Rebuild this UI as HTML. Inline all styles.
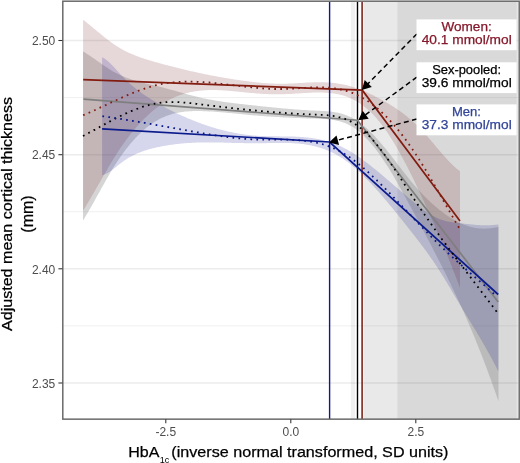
<!DOCTYPE html>
<html><head><meta charset="utf-8"><style>html,body{margin:0;padding:0;background:#fff;overflow:hidden}svg{display:block}</style></head>
<body><svg width="520" height="463" viewBox="0 0 520 463">
<rect x="0" y="0" width="520" height="463" fill="#fff"/>
<line x1="62.4" x2="518.6" y1="40.5" y2="40.5" stroke="#ececec" stroke-width="1.5"/>
<line x1="62.4" x2="518.6" y1="154.7" y2="154.7" stroke="#ececec" stroke-width="1.5"/>
<line x1="62.4" x2="518.6" y1="268.8" y2="268.8" stroke="#ececec" stroke-width="1.5"/>
<line x1="62.4" x2="518.6" y1="383.0" y2="383.0" stroke="#ececec" stroke-width="1.5"/>
<line x1="62.4" x2="518.6" y1="97.6" y2="97.6" stroke="#f0f0f0" stroke-width="1.0"/>
<line x1="62.4" x2="518.6" y1="211.7" y2="211.7" stroke="#f0f0f0" stroke-width="1.0"/>
<line x1="62.4" x2="518.6" y1="325.9" y2="325.9" stroke="#f0f0f0" stroke-width="1.0"/>
<rect x="350.8" y="1.4" width="4.3" height="417.8" fill="#000" fill-opacity="0.06"/>
<rect x="363.5" y="1.4" width="33.9" height="417.8" fill="#000" fill-opacity="0.085"/>
<rect x="397.4" y="1.4" width="119.2" height="417.8" fill="#000" fill-opacity="0.15"/>
<rect x="516.6" y="1.4" width="1.5" height="417.8" fill="#000" fill-opacity="0.10"/>
<path d="M83.0,51.4 L84.0,52.0 L85.0,52.6 L86.0,53.2 L87.0,53.9 L88.0,54.5 L89.0,55.2 L90.0,55.8 L91.0,56.5 L92.0,57.2 L93.0,57.9 L94.0,58.6 L95.0,59.3 L96.0,60.0 L97.0,60.7 L98.0,61.4 L99.0,62.1 L100.0,62.8 L101.0,63.5 L102.0,64.2 L103.0,64.9 L104.0,65.6 L105.0,66.3 L106.0,67.0 L107.0,67.6 L108.0,68.3 L109.0,69.0 L110.0,69.6 L111.0,70.2 L112.0,70.8 L113.0,71.4 L114.0,72.0 L115.0,72.5 L116.0,73.0 L117.0,73.6 L118.0,74.1 L119.0,74.5 L120.0,75.0 L121.0,75.5 L122.0,75.9 L123.0,76.3 L124.0,76.8 L125.0,77.2 L126.0,77.5 L127.0,77.9 L128.0,78.3 L129.0,78.6 L130.0,79.0 L131.0,79.3 L132.0,79.7 L133.0,80.0 L134.0,80.3 L135.0,80.6 L136.0,80.9 L137.0,81.2 L138.0,81.4 L139.0,81.7 L140.0,82.0 L141.0,82.3 L142.0,82.5 L143.0,82.8 L144.0,83.0 L145.0,83.3 L146.0,83.5 L147.0,83.7 L148.0,84.0 L149.0,84.2 L150.0,84.4 L151.0,84.7 L152.0,84.9 L153.0,85.1 L154.0,85.4 L155.0,85.6 L156.0,85.9 L157.0,86.1 L158.0,86.3 L159.0,86.6 L160.0,86.8 L161.0,87.1 L162.0,87.3 L163.0,87.6 L164.0,87.8 L165.0,88.1 L166.0,88.4 L167.0,88.6 L168.0,88.9 L169.0,89.2 L170.0,89.5 L171.0,89.7 L172.0,90.0 L173.0,90.3 L174.0,90.6 L175.0,90.8 L176.0,91.1 L177.0,91.4 L178.0,91.7 L179.0,92.0 L180.0,92.3 L181.0,92.5 L182.0,92.8 L183.0,93.1 L184.0,93.4 L185.0,93.6 L186.0,93.9 L187.0,94.2 L188.0,94.5 L189.0,94.7 L190.0,95.0 L191.0,95.3 L192.0,95.5 L193.0,95.8 L194.0,96.0 L195.0,96.3 L196.0,96.6 L197.0,96.8 L198.0,97.0 L199.0,97.3 L200.0,97.5 L201.0,97.7 L202.0,98.0 L203.0,98.2 L204.0,98.4 L205.0,98.6 L206.0,98.8 L207.0,99.0 L208.0,99.2 L209.0,99.4 L210.0,99.6 L211.0,99.8 L212.0,100.0 L213.0,100.1 L214.0,100.3 L215.0,100.5 L216.0,100.7 L217.0,100.8 L218.0,101.0 L219.0,101.1 L220.0,101.3 L221.0,101.5 L222.0,101.6 L223.0,101.7 L224.0,101.9 L225.0,102.0 L226.0,102.2 L227.0,102.3 L228.0,102.4 L229.0,102.6 L230.0,102.7 L231.0,102.8 L232.0,103.0 L233.0,103.1 L234.0,103.2 L235.0,103.3 L236.0,103.4 L237.0,103.6 L238.0,103.7 L239.0,103.8 L240.0,103.9 L241.0,104.0 L242.0,104.1 L243.0,104.2 L244.0,104.3 L245.0,104.5 L246.0,104.6 L247.0,104.7 L248.0,104.8 L249.0,104.9 L250.0,105.0 L251.0,105.1 L252.0,105.2 L253.0,105.3 L254.0,105.4 L255.0,105.5 L256.0,105.6 L257.0,105.8 L258.0,105.9 L259.0,106.0 L260.0,106.1 L261.0,106.2 L262.0,106.3 L263.0,106.4 L264.0,106.5 L265.0,106.6 L266.0,106.7 L267.0,106.8 L268.0,106.9 L269.0,107.0 L270.0,107.1 L271.0,107.2 L272.0,107.3 L273.0,107.4 L274.0,107.5 L275.0,107.6 L276.0,107.7 L277.0,107.8 L278.0,107.9 L279.0,108.0 L280.0,108.1 L281.0,108.2 L282.0,108.3 L283.0,108.4 L284.0,108.5 L285.0,108.6 L286.0,108.6 L287.0,108.7 L288.0,108.8 L289.0,108.9 L290.0,109.0 L291.0,109.1 L292.0,109.1 L293.0,109.2 L294.0,109.3 L295.0,109.4 L296.0,109.5 L297.0,109.5 L298.0,109.6 L299.0,109.7 L300.0,109.7 L301.0,109.8 L302.0,109.9 L303.0,110.0 L304.0,110.0 L305.0,110.1 L306.0,110.1 L307.0,110.2 L308.0,110.3 L309.0,110.3 L310.0,110.4 L311.0,110.4 L312.0,110.5 L313.0,110.5 L314.0,110.6 L315.0,110.6 L316.0,110.7 L317.0,110.7 L318.0,110.7 L319.0,110.8 L320.0,110.8 L321.0,110.9 L322.0,110.9 L323.0,111.0 L324.0,111.0 L325.0,111.1 L326.0,111.2 L327.0,111.2 L328.0,111.3 L329.0,111.4 L330.0,111.5 L331.0,111.6 L332.0,111.8 L333.0,111.9 L334.0,112.1 L335.0,112.2 L336.0,112.4 L337.0,112.6 L338.0,112.8 L339.0,113.0 L340.0,113.3 L341.0,113.5 L342.0,113.8 L343.0,114.1 L344.0,114.4 L345.0,114.8 L346.0,115.1 L347.0,115.5 L348.0,115.9 L349.0,116.4 L350.0,116.8 L351.0,117.3 L352.0,117.8 L353.0,118.4 L354.0,118.9 L355.0,119.5 L356.0,120.2 L357.0,120.8 L358.0,121.5 L359.0,122.2 L360.0,122.9 L361.0,123.7 L362.0,124.5 L363.0,125.3 L364.0,126.1 L365.0,126.9 L366.0,127.8 L367.0,128.7 L368.0,129.6 L369.0,130.6 L370.0,131.5 L371.0,132.5 L372.0,133.5 L373.0,134.6 L374.0,135.6 L375.0,136.6 L376.0,137.7 L377.0,138.8 L378.0,139.9 L379.0,141.1 L380.0,142.2 L381.0,143.4 L382.0,144.5 L383.0,145.7 L384.0,146.9 L385.0,148.1 L386.0,149.3 L387.0,150.6 L388.0,151.8 L389.0,153.1 L390.0,154.4 L391.0,155.6 L392.0,156.9 L393.0,158.2 L394.0,159.5 L395.0,160.8 L396.0,162.1 L397.0,163.4 L398.0,164.7 L399.0,166.0 L400.0,167.3 L401.0,168.6 L402.0,169.9 L403.0,171.2 L404.0,172.5 L405.0,173.8 L406.0,175.1 L407.0,176.3 L408.0,177.6 L409.0,178.8 L410.0,180.0 L411.0,181.2 L412.0,182.4 L413.0,183.6 L414.0,184.8 L415.0,185.9 L416.0,187.1 L417.0,188.2 L418.0,189.3 L419.0,190.4 L420.0,191.5 L421.0,192.6 L422.0,193.6 L423.0,194.7 L424.0,195.7 L425.0,196.7 L426.0,197.7 L427.0,198.7 L428.0,199.7 L429.0,200.6 L430.0,201.6 L431.0,202.5 L432.0,203.4 L433.0,204.3 L434.0,205.2 L435.0,206.1 L436.0,206.9 L437.0,207.8 L438.0,208.6 L439.0,209.4 L440.0,210.2 L441.0,211.0 L442.0,211.7 L443.0,212.5 L444.0,213.2 L445.0,214.0 L446.0,214.7 L447.0,215.4 L448.0,216.0 L449.0,216.7 L450.0,217.4 L451.0,218.0 L452.0,218.6 L453.0,219.2 L454.0,219.8 L455.0,220.3 L456.0,220.9 L457.0,221.4 L458.0,221.9 L459.0,222.4 L460.0,222.9 L461.0,223.4 L462.0,223.8 L463.0,224.2 L464.0,224.7 L465.0,225.0 L466.0,225.4 L467.0,225.8 L468.0,226.1 L469.0,226.4 L470.0,226.7 L471.0,227.0 L472.0,227.2 L473.0,227.5 L474.0,227.7 L475.0,227.9 L476.0,228.0 L477.0,228.2 L478.0,228.3 L479.0,228.4 L480.0,228.5 L481.0,228.6 L482.0,228.6 L483.0,228.7 L484.0,228.7 L485.0,228.7 L486.0,228.6 L487.0,228.6 L488.0,228.5 L489.0,228.4 L490.0,228.3 L491.0,228.2 L492.0,228.1 L493.0,228.0 L494.0,227.8 L495.0,227.6 L496.0,227.5 L497.0,227.3 L498.0,227.1 L498.5,227.0 L498.5,401.2 L498.0,399.8 L497.0,396.9 L496.0,394.1 L495.0,391.3 L494.0,388.5 L493.0,385.7 L492.0,382.9 L491.0,380.1 L490.0,377.4 L489.0,374.7 L488.0,372.0 L487.0,369.3 L486.0,366.6 L485.0,363.9 L484.0,361.3 L483.0,358.7 L482.0,356.1 L481.0,353.5 L480.0,351.0 L479.0,348.5 L478.0,345.9 L477.0,343.5 L476.0,341.0 L475.0,338.5 L474.0,336.1 L473.0,333.7 L472.0,331.3 L471.0,328.9 L470.0,326.6 L469.0,324.2 L468.0,321.9 L467.0,319.6 L466.0,317.3 L465.0,315.1 L464.0,312.8 L463.0,310.6 L462.0,308.3 L461.0,306.1 L460.0,303.9 L459.0,301.8 L458.0,299.6 L457.0,297.5 L456.0,295.3 L455.0,293.2 L454.0,291.1 L453.0,289.0 L452.0,286.9 L451.0,284.8 L450.0,282.7 L449.0,280.7 L448.0,278.6 L447.0,276.6 L446.0,274.6 L445.0,272.6 L444.0,270.5 L443.0,268.5 L442.0,266.6 L441.0,264.6 L440.0,262.6 L439.0,260.6 L438.0,258.7 L437.0,256.7 L436.0,254.8 L435.0,252.8 L434.0,250.9 L433.0,248.9 L432.0,247.0 L431.0,245.1 L430.0,243.2 L429.0,241.3 L428.0,239.4 L427.0,237.5 L426.0,235.6 L425.0,233.7 L424.0,231.8 L423.0,229.9 L422.0,228.0 L421.0,226.2 L420.0,224.3 L419.0,222.4 L418.0,220.5 L417.0,218.7 L416.0,216.8 L415.0,215.0 L414.0,213.1 L413.0,211.3 L412.0,209.4 L411.0,207.6 L410.0,205.7 L409.0,203.9 L408.0,202.0 L407.0,200.2 L406.0,198.3 L405.0,196.5 L404.0,194.7 L403.0,192.9 L402.0,191.0 L401.0,189.2 L400.0,187.5 L399.0,185.7 L398.0,183.9 L397.0,182.1 L396.0,180.4 L395.0,178.7 L394.0,177.0 L393.0,175.3 L392.0,173.6 L391.0,171.9 L390.0,170.3 L389.0,168.6 L388.0,167.0 L387.0,165.5 L386.0,163.9 L385.0,162.4 L384.0,160.9 L383.0,159.4 L382.0,157.9 L381.0,156.5 L380.0,155.0 L379.0,153.6 L378.0,152.3 L377.0,150.9 L376.0,149.6 L375.0,148.3 L374.0,147.1 L373.0,145.8 L372.0,144.6 L371.0,143.4 L370.0,142.3 L369.0,141.2 L368.0,140.1 L367.0,139.0 L366.0,137.9 L365.0,136.9 L364.0,135.9 L363.0,135.0 L362.0,134.1 L361.0,133.2 L360.0,132.3 L359.0,131.5 L358.0,130.7 L357.0,129.9 L356.0,129.2 L355.0,128.5 L354.0,127.8 L353.0,127.1 L352.0,126.5 L351.0,126.0 L350.0,125.4 L349.0,124.9 L348.0,124.4 L347.0,123.9 L346.0,123.5 L345.0,123.1 L344.0,122.7 L343.0,122.4 L342.0,122.0 L341.0,121.7 L340.0,121.4 L339.0,121.1 L338.0,120.9 L337.0,120.7 L336.0,120.4 L335.0,120.2 L334.0,120.1 L333.0,119.9 L332.0,119.7 L331.0,119.6 L330.0,119.5 L329.0,119.4 L328.0,119.3 L327.0,119.2 L326.0,119.1 L325.0,119.0 L324.0,119.0 L323.0,118.9 L322.0,118.9 L321.0,118.8 L320.0,118.8 L319.0,118.7 L318.0,118.7 L317.0,118.7 L316.0,118.7 L315.0,118.6 L314.0,118.6 L313.0,118.6 L312.0,118.5 L311.0,118.5 L310.0,118.5 L309.0,118.4 L308.0,118.4 L307.0,118.4 L306.0,118.4 L305.0,118.3 L304.0,118.3 L303.0,118.2 L302.0,118.2 L301.0,118.2 L300.0,118.1 L299.0,118.1 L298.0,118.1 L297.0,118.0 L296.0,118.0 L295.0,117.9 L294.0,117.9 L293.0,117.9 L292.0,117.8 L291.0,117.8 L290.0,117.7 L289.0,117.7 L288.0,117.6 L287.0,117.6 L286.0,117.5 L285.0,117.5 L284.0,117.4 L283.0,117.4 L282.0,117.3 L281.0,117.3 L280.0,117.2 L279.0,117.1 L278.0,117.1 L277.0,117.0 L276.0,117.0 L275.0,116.9 L274.0,116.8 L273.0,116.8 L272.0,116.7 L271.0,116.7 L270.0,116.6 L269.0,116.5 L268.0,116.5 L267.0,116.4 L266.0,116.3 L265.0,116.2 L264.0,116.2 L263.0,116.1 L262.0,116.0 L261.0,115.9 L260.0,115.9 L259.0,115.8 L258.0,115.7 L257.0,115.6 L256.0,115.5 L255.0,115.5 L254.0,115.4 L253.0,115.3 L252.0,115.2 L251.0,115.1 L250.0,115.0 L249.0,114.9 L248.0,114.8 L247.0,114.7 L246.0,114.6 L245.0,114.5 L244.0,114.4 L243.0,114.3 L242.0,114.2 L241.0,114.1 L240.0,114.0 L239.0,113.9 L238.0,113.8 L237.0,113.7 L236.0,113.6 L235.0,113.5 L234.0,113.4 L233.0,113.3 L232.0,113.2 L231.0,113.1 L230.0,113.1 L229.0,113.0 L228.0,112.9 L227.0,112.8 L226.0,112.7 L225.0,112.6 L224.0,112.5 L223.0,112.4 L222.0,112.3 L221.0,112.2 L220.0,112.2 L219.0,112.1 L218.0,112.0 L217.0,111.9 L216.0,111.8 L215.0,111.8 L214.0,111.7 L213.0,111.6 L212.0,111.6 L211.0,111.5 L210.0,111.5 L209.0,111.4 L208.0,111.4 L207.0,111.3 L206.0,111.3 L205.0,111.2 L204.0,111.2 L203.0,111.2 L202.0,111.1 L201.0,111.1 L200.0,111.1 L199.0,111.1 L198.0,111.1 L197.0,111.1 L196.0,111.1 L195.0,111.1 L194.0,111.1 L193.0,111.1 L192.0,111.2 L191.0,111.2 L190.0,111.3 L189.0,111.3 L188.0,111.4 L187.0,111.5 L186.0,111.5 L185.0,111.6 L184.0,111.8 L183.0,111.9 L182.0,112.0 L181.0,112.2 L180.0,112.3 L179.0,112.5 L178.0,112.7 L177.0,112.9 L176.0,113.1 L175.0,113.3 L174.0,113.6 L173.0,113.8 L172.0,114.1 L171.0,114.4 L170.0,114.7 L169.0,115.0 L168.0,115.4 L167.0,115.7 L166.0,116.1 L165.0,116.5 L164.0,116.9 L163.0,117.4 L162.0,117.8 L161.0,118.3 L160.0,118.8 L159.0,119.3 L158.0,119.9 L157.0,120.4 L156.0,121.0 L155.0,121.6 L154.0,122.3 L153.0,122.9 L152.0,123.6 L151.0,124.3 L150.0,125.0 L149.0,125.8 L148.0,126.5 L147.0,127.3 L146.0,128.1 L145.0,129.0 L144.0,129.8 L143.0,130.7 L142.0,131.6 L141.0,132.5 L140.0,133.5 L139.0,134.5 L138.0,135.5 L137.0,136.5 L136.0,137.5 L135.0,138.6 L134.0,139.7 L133.0,140.8 L132.0,141.9 L131.0,143.1 L130.0,144.3 L129.0,145.5 L128.0,146.7 L127.0,148.0 L126.0,149.3 L125.0,150.6 L124.0,151.9 L123.0,153.3 L122.0,154.7 L121.0,156.1 L120.0,157.5 L119.0,159.0 L118.0,160.5 L117.0,162.0 L116.0,163.5 L115.0,165.1 L114.0,166.6 L113.0,168.3 L112.0,169.9 L111.0,171.6 L110.0,173.2 L109.0,174.9 L108.0,176.7 L107.0,178.4 L106.0,180.1 L105.0,181.9 L104.0,183.7 L103.0,185.5 L102.0,187.3 L101.0,189.1 L100.0,190.9 L99.0,192.7 L98.0,194.5 L97.0,196.3 L96.0,198.1 L95.0,199.9 L94.0,201.7 L93.0,203.5 L92.0,205.3 L91.0,207.0 L90.0,208.8 L89.0,210.5 L88.0,212.2 L87.0,213.9 L86.0,215.6 L85.0,217.3 L84.0,218.9 L83.0,220.6Z" fill="#7f7f7f" fill-opacity="0.33"/>
<path d="M83.1,19.7 L84.1,20.5 L85.1,21.3 L86.1,22.1 L87.1,22.9 L88.1,23.7 L89.1,24.5 L90.1,25.4 L91.1,26.2 L92.1,27.0 L93.1,27.9 L94.1,28.7 L95.1,29.5 L96.1,30.3 L97.1,31.2 L98.1,32.0 L99.1,32.8 L100.1,33.6 L101.1,34.5 L102.1,35.3 L103.1,36.1 L104.1,36.9 L105.1,37.7 L106.1,38.5 L107.1,39.2 L108.1,40.0 L109.1,40.8 L110.1,41.5 L111.1,42.2 L112.1,43.0 L113.1,43.7 L114.1,44.4 L115.1,45.0 L116.1,45.7 L117.1,46.3 L118.1,47.0 L119.1,47.6 L120.1,48.2 L121.1,48.8 L122.1,49.3 L123.1,49.9 L124.1,50.4 L125.1,50.9 L126.1,51.4 L127.1,51.9 L128.1,52.4 L129.1,52.9 L130.1,53.3 L131.1,53.8 L132.1,54.2 L133.1,54.6 L134.1,55.0 L135.1,55.4 L136.1,55.8 L137.1,56.2 L138.1,56.6 L139.1,57.0 L140.1,57.3 L141.1,57.7 L142.1,58.0 L143.1,58.3 L144.1,58.7 L145.1,59.0 L146.1,59.3 L147.1,59.6 L148.1,59.9 L149.1,60.2 L150.1,60.5 L151.1,60.8 L152.1,61.1 L153.1,61.4 L154.1,61.7 L155.1,62.0 L156.1,62.3 L157.1,62.5 L158.1,62.8 L159.1,63.1 L160.1,63.4 L161.1,63.6 L162.1,63.9 L163.1,64.2 L164.1,64.5 L165.1,64.7 L166.1,65.0 L167.1,65.3 L168.1,65.5 L169.1,65.8 L170.1,66.0 L171.1,66.3 L172.1,66.6 L173.1,66.8 L174.1,67.1 L175.1,67.3 L176.1,67.6 L177.1,67.8 L178.1,68.1 L179.1,68.3 L180.1,68.6 L181.1,68.8 L182.1,69.0 L183.1,69.3 L184.1,69.5 L185.1,69.8 L186.1,70.0 L187.1,70.2 L188.1,70.5 L189.1,70.7 L190.1,70.9 L191.1,71.2 L192.1,71.4 L193.1,71.6 L194.1,71.8 L195.1,72.1 L196.1,72.3 L197.1,72.5 L198.1,72.7 L199.1,72.9 L200.1,73.1 L201.1,73.4 L202.1,73.6 L203.1,73.8 L204.1,74.0 L205.1,74.2 L206.1,74.4 L207.1,74.6 L208.1,74.8 L209.1,75.0 L210.1,75.2 L211.1,75.4 L212.1,75.6 L213.1,75.8 L214.1,76.0 L215.1,76.1 L216.1,76.3 L217.1,76.5 L218.1,76.7 L219.1,76.9 L220.1,77.1 L221.1,77.2 L222.1,77.4 L223.1,77.6 L224.1,77.8 L225.1,77.9 L226.1,78.1 L227.1,78.3 L228.1,78.4 L229.1,78.6 L230.1,78.7 L231.1,78.9 L232.1,79.1 L233.1,79.2 L234.1,79.4 L235.1,79.5 L236.1,79.7 L237.1,79.8 L238.1,80.0 L239.1,80.1 L240.1,80.3 L241.1,80.4 L242.1,80.5 L243.1,80.7 L244.1,80.8 L245.1,80.9 L246.1,81.1 L247.1,81.2 L248.1,81.3 L249.1,81.4 L250.1,81.6 L251.1,81.7 L252.1,81.8 L253.1,81.9 L254.1,82.0 L255.1,82.2 L256.1,82.3 L257.1,82.4 L258.1,82.5 L259.1,82.6 L260.1,82.7 L261.1,82.8 L262.1,82.9 L263.1,82.9 L264.1,83.0 L265.1,83.1 L266.1,83.2 L267.1,83.2 L268.1,83.3 L269.1,83.4 L270.1,83.4 L271.1,83.5 L272.1,83.5 L273.1,83.6 L274.1,83.6 L275.1,83.7 L276.1,83.7 L277.1,83.7 L278.1,83.7 L279.1,83.7 L280.1,83.8 L281.1,83.8 L282.1,83.8 L283.1,83.7 L284.1,83.7 L285.1,83.7 L286.1,83.7 L287.1,83.7 L288.1,83.6 L289.1,83.6 L290.1,83.5 L291.1,83.5 L292.1,83.4 L293.1,83.4 L294.1,83.3 L295.1,83.3 L296.1,83.2 L297.1,83.2 L298.1,83.1 L299.1,83.1 L300.1,83.0 L301.1,82.9 L302.1,82.9 L303.1,82.8 L304.1,82.8 L305.1,82.7 L306.1,82.6 L307.1,82.6 L308.1,82.5 L309.1,82.5 L310.1,82.4 L311.1,82.4 L312.1,82.4 L313.1,82.3 L314.1,82.3 L315.1,82.3 L316.1,82.2 L317.1,82.2 L318.1,82.2 L319.1,82.2 L320.1,82.2 L321.1,82.2 L322.1,82.2 L323.1,82.2 L324.1,82.3 L325.1,82.3 L326.1,82.3 L327.1,82.4 L328.1,82.4 L329.1,82.5 L330.1,82.6 L331.1,82.7 L332.1,82.8 L333.1,82.9 L334.1,83.0 L335.1,83.1 L336.1,83.2 L337.1,83.4 L338.1,83.5 L339.1,83.7 L340.1,83.9 L341.1,84.0 L342.1,84.2 L343.1,84.4 L344.1,84.6 L345.1,84.9 L346.1,85.1 L347.1,85.3 L348.1,85.6 L349.1,85.9 L350.1,86.1 L351.1,86.4 L352.1,86.7 L353.1,87.0 L354.1,87.4 L355.1,87.7 L356.1,88.0 L357.1,88.4 L358.1,88.7 L359.1,89.1 L360.1,89.5 L361.1,89.9 L362.1,90.3 L363.1,90.7 L364.1,91.1 L365.1,91.6 L366.1,92.0 L367.1,92.5 L368.1,92.9 L369.1,93.4 L370.1,93.9 L371.1,94.4 L372.1,94.8 L373.1,95.3 L374.1,95.8 L375.1,96.4 L376.1,96.9 L377.1,97.4 L378.1,97.9 L379.1,98.5 L380.1,99.0 L381.1,99.5 L382.1,100.1 L383.1,100.6 L384.1,101.2 L385.1,101.8 L386.1,102.3 L387.1,102.9 L388.1,103.5 L389.1,104.1 L390.1,104.7 L391.1,105.3 L392.1,106.0 L393.1,106.6 L394.1,107.2 L395.1,107.9 L396.1,108.5 L397.1,109.2 L398.1,109.9 L399.1,110.6 L400.1,111.3 L401.1,112.0 L402.1,112.8 L403.1,113.5 L404.1,114.3 L405.1,115.0 L406.1,115.8 L407.1,116.6 L408.1,117.4 L409.1,118.3 L410.1,119.1 L411.1,120.0 L412.1,120.9 L413.1,121.8 L414.1,122.7 L415.1,123.6 L416.1,124.6 L417.1,125.6 L418.1,126.5 L419.1,127.5 L420.1,128.6 L421.1,129.6 L422.1,130.6 L423.1,131.7 L424.1,132.8 L425.1,133.9 L426.1,135.0 L427.1,136.1 L428.1,137.3 L429.1,138.4 L430.1,139.6 L431.1,140.8 L432.1,141.9 L433.1,143.1 L434.1,144.3 L435.1,145.5 L436.1,146.7 L437.1,147.9 L438.1,149.0 L439.1,150.2 L440.1,151.4 L441.1,152.6 L442.1,153.7 L443.1,154.9 L444.1,156.0 L445.1,157.1 L446.1,158.2 L447.1,159.3 L448.1,160.4 L449.1,161.4 L450.1,162.5 L451.1,163.5 L452.1,164.5 L453.1,165.4 L454.1,166.4 L455.1,167.3 L456.1,168.2 L457.1,169.0 L458.1,169.8 L459.1,170.6 L460.0,171.3 L460.0,287.9 L459.1,285.5 L458.1,282.8 L457.1,280.2 L456.1,277.6 L455.1,275.0 L454.1,272.4 L453.1,269.9 L452.1,267.3 L451.1,264.8 L450.1,262.3 L449.1,259.8 L448.1,257.4 L447.1,254.9 L446.1,252.5 L445.1,250.1 L444.1,247.7 L443.1,245.3 L442.1,242.9 L441.1,240.5 L440.1,238.2 L439.1,235.8 L438.1,233.5 L437.1,231.2 L436.1,228.9 L435.1,226.6 L434.1,224.3 L433.1,222.1 L432.1,219.8 L431.1,217.6 L430.1,215.3 L429.1,213.1 L428.1,210.9 L427.1,208.7 L426.1,206.4 L425.1,204.2 L424.1,202.0 L423.1,199.9 L422.1,197.7 L421.1,195.5 L420.1,193.3 L419.1,191.2 L418.1,189.1 L417.1,186.9 L416.1,184.8 L415.1,182.7 L414.1,180.6 L413.1,178.6 L412.1,176.5 L411.1,174.5 L410.1,172.5 L409.1,170.5 L408.1,168.5 L407.1,166.5 L406.1,164.6 L405.1,162.7 L404.1,160.8 L403.1,158.9 L402.1,157.1 L401.1,155.2 L400.1,153.4 L399.1,151.6 L398.1,149.9 L397.1,148.1 L396.1,146.4 L395.1,144.7 L394.1,143.1 L393.1,141.4 L392.1,139.8 L391.1,138.2 L390.1,136.7 L389.1,135.1 L388.1,133.6 L387.1,132.1 L386.1,130.7 L385.1,129.3 L384.1,127.9 L383.1,126.5 L382.1,125.2 L381.1,123.9 L380.1,122.6 L379.1,121.4 L378.1,120.2 L377.1,119.0 L376.1,117.8 L375.1,116.7 L374.1,115.6 L373.1,114.6 L372.1,113.6 L371.1,112.6 L370.1,111.6 L369.1,110.7 L368.1,109.7 L367.1,108.9 L366.1,108.0 L365.1,107.2 L364.1,106.4 L363.1,105.6 L362.1,104.9 L361.1,104.2 L360.1,103.5 L359.1,102.8 L358.1,102.2 L357.1,101.6 L356.1,101.0 L355.1,100.4 L354.1,99.9 L353.1,99.4 L352.1,98.9 L351.1,98.4 L350.1,98.0 L349.1,97.6 L348.1,97.2 L347.1,96.8 L346.1,96.4 L345.1,96.1 L344.1,95.8 L343.1,95.5 L342.1,95.2 L341.1,95.0 L340.1,94.7 L339.1,94.5 L338.1,94.3 L337.1,94.1 L336.1,93.9 L335.1,93.7 L334.1,93.6 L333.1,93.4 L332.1,93.3 L331.1,93.2 L330.1,93.1 L329.1,93.0 L328.1,92.9 L327.1,92.8 L326.1,92.8 L325.1,92.7 L324.1,92.7 L323.1,92.6 L322.1,92.6 L321.1,92.6 L320.1,92.5 L319.1,92.5 L318.1,92.5 L317.1,92.5 L316.1,92.5 L315.1,92.6 L314.1,92.6 L313.1,92.6 L312.1,92.6 L311.1,92.7 L310.1,92.7 L309.1,92.8 L308.1,92.8 L307.1,92.9 L306.1,92.9 L305.1,93.0 L304.1,93.0 L303.1,93.1 L302.1,93.2 L301.1,93.2 L300.1,93.3 L299.1,93.4 L298.1,93.4 L297.1,93.5 L296.1,93.6 L295.1,93.6 L294.1,93.7 L293.1,93.8 L292.1,93.8 L291.1,93.9 L290.1,93.9 L289.1,94.0 L288.1,94.1 L287.1,94.1 L286.1,94.1 L285.1,94.2 L284.1,94.2 L283.1,94.3 L282.1,94.3 L281.1,94.3 L280.1,94.3 L279.1,94.3 L278.1,94.3 L277.1,94.3 L276.1,94.3 L275.1,94.3 L274.1,94.3 L273.1,94.3 L272.1,94.3 L271.1,94.2 L270.1,94.2 L269.1,94.2 L268.1,94.1 L267.1,94.1 L266.1,94.1 L265.1,94.0 L264.1,93.9 L263.1,93.9 L262.1,93.8 L261.1,93.8 L260.1,93.7 L259.1,93.6 L258.1,93.5 L257.1,93.5 L256.1,93.4 L255.1,93.3 L254.1,93.2 L253.1,93.1 L252.1,93.0 L251.1,93.0 L250.1,92.9 L249.1,92.8 L248.1,92.7 L247.1,92.6 L246.1,92.5 L245.1,92.4 L244.1,92.3 L243.1,92.2 L242.1,92.1 L241.1,92.0 L240.1,91.9 L239.1,91.8 L238.1,91.7 L237.1,91.6 L236.1,91.5 L235.1,91.4 L234.1,91.3 L233.1,91.2 L232.1,91.1 L231.1,91.0 L230.1,90.9 L229.1,90.8 L228.1,90.8 L227.1,90.7 L226.1,90.6 L225.1,90.5 L224.1,90.5 L223.1,90.4 L222.1,90.3 L221.1,90.3 L220.1,90.2 L219.1,90.2 L218.1,90.2 L217.1,90.1 L216.1,90.1 L215.1,90.1 L214.1,90.1 L213.1,90.1 L212.1,90.1 L211.1,90.1 L210.1,90.1 L209.1,90.1 L208.1,90.1 L207.1,90.2 L206.1,90.2 L205.1,90.3 L204.1,90.3 L203.1,90.4 L202.1,90.5 L201.1,90.6 L200.1,90.7 L199.1,90.8 L198.1,90.9 L197.1,91.0 L196.1,91.2 L195.1,91.3 L194.1,91.5 L193.1,91.7 L192.1,91.9 L191.1,92.1 L190.1,92.3 L189.1,92.5 L188.1,92.7 L187.1,93.0 L186.1,93.2 L185.1,93.5 L184.1,93.8 L183.1,94.1 L182.1,94.4 L181.1,94.7 L180.1,95.1 L179.1,95.4 L178.1,95.8 L177.1,96.2 L176.1,96.6 L175.1,97.0 L174.1,97.5 L173.1,97.9 L172.1,98.4 L171.1,98.8 L170.1,99.3 L169.1,99.9 L168.1,100.4 L167.1,100.9 L166.1,101.5 L165.1,102.1 L164.1,102.7 L163.1,103.3 L162.1,104.0 L161.1,104.6 L160.1,105.3 L159.1,106.0 L158.1,106.7 L157.1,107.5 L156.1,108.2 L155.1,109.0 L154.1,109.8 L153.1,110.6 L152.1,111.4 L151.1,112.3 L150.1,113.2 L149.1,114.1 L148.1,115.0 L147.1,115.9 L146.1,116.9 L145.1,117.8 L144.1,118.8 L143.1,119.8 L142.1,120.9 L141.1,121.9 L140.1,123.0 L139.1,124.1 L138.1,125.2 L137.1,126.3 L136.1,127.5 L135.1,128.6 L134.1,129.8 L133.1,131.0 L132.1,132.3 L131.1,133.5 L130.1,134.8 L129.1,136.1 L128.1,137.4 L127.1,138.7 L126.1,140.1 L125.1,141.4 L124.1,142.8 L123.1,144.3 L122.1,145.7 L121.1,147.1 L120.1,148.6 L119.1,150.1 L118.1,151.6 L117.1,153.2 L116.1,154.7 L115.1,156.3 L114.1,157.9 L113.1,159.5 L112.1,161.2 L111.1,162.8 L110.1,164.5 L109.1,166.1 L108.1,167.8 L107.1,169.5 L106.1,171.2 L105.1,173.0 L104.1,174.7 L103.1,176.4 L102.1,178.2 L101.1,179.9 L100.1,181.7 L99.1,183.4 L98.1,185.1 L97.1,186.9 L96.1,188.6 L95.1,190.4 L94.1,192.1 L93.1,193.9 L92.1,195.6 L91.1,197.3 L90.1,199.0 L89.1,200.8 L88.1,202.5 L87.1,204.1 L86.1,205.8 L85.1,207.5 L84.1,209.1 L83.1,210.7Z" fill="#7a2a35" fill-opacity="0.19"/>
<path d="M102.1,57.2 L103.1,57.7 L104.1,58.3 L105.1,59.0 L106.1,59.8 L107.1,60.6 L108.1,61.4 L109.1,62.3 L110.1,63.2 L111.1,64.2 L112.1,65.2 L113.1,66.3 L114.1,67.3 L115.1,68.4 L116.1,69.5 L117.1,70.6 L118.1,71.7 L119.1,72.8 L120.1,73.9 L121.1,75.0 L122.1,76.0 L123.1,77.1 L124.1,78.1 L125.1,79.1 L126.1,80.1 L127.1,81.1 L128.1,82.0 L129.1,82.9 L130.1,83.9 L131.1,84.7 L132.1,85.6 L133.1,86.4 L134.1,87.3 L135.1,88.1 L136.1,88.9 L137.1,89.7 L138.1,90.4 L139.1,91.2 L140.1,91.9 L141.1,92.6 L142.1,93.4 L143.1,94.1 L144.1,94.7 L145.1,95.4 L146.1,96.1 L147.1,96.7 L148.1,97.4 L149.1,98.0 L150.1,98.6 L151.1,99.3 L152.1,99.9 L153.1,100.5 L154.1,101.1 L155.1,101.7 L156.1,102.3 L157.1,102.8 L158.1,103.4 L159.1,104.0 L160.1,104.6 L161.1,105.1 L162.1,105.7 L163.1,106.2 L164.1,106.8 L165.1,107.3 L166.1,107.9 L167.1,108.4 L168.1,108.9 L169.1,109.4 L170.1,110.0 L171.1,110.5 L172.1,111.0 L173.1,111.5 L174.1,112.0 L175.1,112.5 L176.1,112.9 L177.1,113.4 L178.1,113.9 L179.1,114.4 L180.1,114.8 L181.1,115.3 L182.1,115.7 L183.1,116.2 L184.1,116.6 L185.1,117.1 L186.1,117.5 L187.1,118.0 L188.1,118.4 L189.1,118.8 L190.1,119.2 L191.1,119.6 L192.1,120.0 L193.1,120.4 L194.1,120.8 L195.1,121.2 L196.1,121.6 L197.1,122.0 L198.1,122.4 L199.1,122.8 L200.1,123.1 L201.1,123.5 L202.1,123.9 L203.1,124.2 L204.1,124.6 L205.1,124.9 L206.1,125.3 L207.1,125.6 L208.1,125.9 L209.1,126.2 L210.1,126.6 L211.1,126.9 L212.1,127.2 L213.1,127.5 L214.1,127.8 L215.1,128.1 L216.1,128.4 L217.1,128.7 L218.1,129.0 L219.1,129.2 L220.1,129.5 L221.1,129.8 L222.1,130.0 L223.1,130.3 L224.1,130.5 L225.1,130.8 L226.1,131.0 L227.1,131.3 L228.1,131.5 L229.1,131.7 L230.1,131.9 L231.1,132.1 L232.1,132.3 L233.1,132.5 L234.1,132.7 L235.1,132.9 L236.1,133.1 L237.1,133.3 L238.1,133.5 L239.1,133.7 L240.1,133.8 L241.1,134.0 L242.1,134.1 L243.1,134.3 L244.1,134.4 L245.1,134.6 L246.1,134.7 L247.1,134.8 L248.1,134.9 L249.1,135.0 L250.1,135.2 L251.1,135.3 L252.1,135.4 L253.1,135.5 L254.1,135.5 L255.1,135.6 L256.1,135.7 L257.1,135.8 L258.1,135.8 L259.1,135.9 L260.1,135.9 L261.1,136.0 L262.1,136.0 L263.1,136.1 L264.1,136.1 L265.1,136.1 L266.1,136.2 L267.1,136.2 L268.1,136.2 L269.1,136.2 L270.1,136.3 L271.1,136.3 L272.1,136.3 L273.1,136.3 L274.1,136.3 L275.1,136.3 L276.1,136.3 L277.1,136.3 L278.1,136.3 L279.1,136.3 L280.1,136.4 L281.1,136.4 L282.1,136.4 L283.1,136.4 L284.1,136.4 L285.1,136.4 L286.1,136.4 L287.1,136.4 L288.1,136.4 L289.1,136.5 L290.1,136.5 L291.1,136.5 L292.1,136.5 L293.1,136.6 L294.1,136.6 L295.1,136.6 L296.1,136.7 L297.1,136.7 L298.1,136.8 L299.1,136.8 L300.1,136.9 L301.1,137.0 L302.1,137.0 L303.1,137.1 L304.1,137.2 L305.1,137.3 L306.1,137.4 L307.1,137.5 L308.1,137.6 L309.1,137.7 L310.1,137.8 L311.1,137.9 L312.1,138.1 L313.1,138.2 L314.1,138.4 L315.1,138.5 L316.1,138.7 L317.1,138.9 L318.1,139.1 L319.1,139.3 L320.1,139.5 L321.1,139.7 L322.1,139.9 L323.1,140.2 L324.1,140.4 L325.1,140.7 L326.1,140.9 L327.1,141.2 L328.1,141.5 L329.1,141.8 L330.1,142.1 L331.1,142.5 L332.1,142.8 L333.1,143.2 L334.1,143.5 L335.1,143.9 L336.1,144.3 L337.1,144.7 L338.1,145.1 L339.1,145.6 L340.1,146.0 L341.1,146.5 L342.1,146.9 L343.1,147.4 L344.1,147.9 L345.1,148.5 L346.1,149.0 L347.1,149.6 L348.1,150.1 L349.1,150.7 L350.1,151.3 L351.1,151.9 L352.1,152.5 L353.1,153.1 L354.1,153.8 L355.1,154.4 L356.1,155.1 L357.1,155.7 L358.1,156.4 L359.1,157.1 L360.1,157.8 L361.1,158.5 L362.1,159.2 L363.1,160.0 L364.1,160.7 L365.1,161.5 L366.1,162.2 L367.1,163.0 L368.1,163.7 L369.1,164.5 L370.1,165.3 L371.1,166.1 L372.1,166.9 L373.1,167.7 L374.1,168.5 L375.1,169.3 L376.1,170.1 L377.1,171.0 L378.1,171.8 L379.1,172.6 L380.1,173.4 L381.1,174.3 L382.1,175.1 L383.1,176.0 L384.1,176.8 L385.1,177.7 L386.1,178.5 L387.1,179.4 L388.1,180.2 L389.1,181.1 L390.1,182.0 L391.1,182.8 L392.1,183.7 L393.1,184.5 L394.1,185.4 L395.1,186.3 L396.1,187.1 L397.1,188.0 L398.1,188.8 L399.1,189.7 L400.1,190.6 L401.1,191.4 L402.1,192.3 L403.1,193.1 L404.1,194.0 L405.1,194.8 L406.1,195.7 L407.1,196.5 L408.1,197.4 L409.1,198.2 L410.1,199.1 L411.1,199.9 L412.1,200.7 L413.1,201.6 L414.1,202.4 L415.1,203.2 L416.1,204.0 L417.1,204.8 L418.1,205.6 L419.1,206.4 L420.1,207.2 L421.1,208.0 L422.1,208.7 L423.1,209.4 L424.1,210.2 L425.1,210.9 L426.1,211.6 L427.1,212.3 L428.1,212.9 L429.1,213.6 L430.1,214.2 L431.1,214.8 L432.1,215.4 L433.1,216.0 L434.1,216.5 L435.1,217.0 L436.1,217.5 L437.1,218.0 L438.1,218.5 L439.1,218.9 L440.1,219.3 L441.1,219.7 L442.1,220.0 L443.1,220.3 L444.1,220.6 L445.1,220.9 L446.1,221.1 L447.1,221.4 L448.1,221.6 L449.1,221.8 L450.1,221.9 L451.1,222.1 L452.1,222.2 L453.1,222.4 L454.1,222.5 L455.1,222.6 L456.1,222.8 L457.1,222.9 L458.1,223.0 L459.1,223.1 L460.1,223.2 L461.1,223.3 L462.1,223.4 L463.1,223.6 L464.1,223.7 L465.1,223.8 L466.1,223.9 L467.1,224.0 L468.1,224.1 L469.1,224.2 L470.1,224.3 L471.1,224.4 L472.1,224.5 L473.1,224.6 L474.1,224.7 L475.1,224.8 L476.1,224.9 L477.1,225.0 L478.1,225.1 L479.1,225.1 L480.1,225.2 L481.1,225.2 L482.1,225.3 L483.1,225.3 L484.1,225.3 L485.1,225.3 L486.1,225.3 L487.1,225.3 L488.1,225.3 L489.1,225.3 L490.1,225.2 L491.1,225.2 L492.1,225.1 L493.1,225.0 L494.1,224.9 L495.1,224.8 L496.1,224.7 L497.1,224.6 L498.1,224.4 L498.4,224.4 L498.4,371.6 L498.1,371.0 L497.1,369.0 L496.1,367.0 L495.1,365.1 L494.1,363.1 L493.1,361.2 L492.1,359.3 L491.1,357.5 L490.1,355.6 L489.1,353.8 L488.1,352.0 L487.1,350.2 L486.1,348.4 L485.1,346.6 L484.1,344.9 L483.1,343.2 L482.1,341.4 L481.1,339.7 L480.1,338.0 L479.1,336.3 L478.1,334.7 L477.1,333.0 L476.1,331.3 L475.1,329.7 L474.1,328.0 L473.1,326.4 L472.1,324.7 L471.1,323.1 L470.1,321.4 L469.1,319.8 L468.1,318.2 L467.1,316.5 L466.1,314.9 L465.1,313.2 L464.1,311.6 L463.1,309.9 L462.1,308.3 L461.1,306.6 L460.1,305.0 L459.1,303.3 L458.1,301.6 L457.1,299.9 L456.1,298.2 L455.1,296.6 L454.1,294.9 L453.1,293.2 L452.1,291.5 L451.1,289.8 L450.1,288.1 L449.1,286.4 L448.1,284.7 L447.1,283.1 L446.1,281.4 L445.1,279.7 L444.1,278.1 L443.1,276.5 L442.1,274.8 L441.1,273.2 L440.1,271.7 L439.1,270.1 L438.1,268.5 L437.1,267.0 L436.1,265.5 L435.1,264.0 L434.1,262.5 L433.1,261.0 L432.1,259.6 L431.1,258.2 L430.1,256.7 L429.1,255.3 L428.1,253.9 L427.1,252.5 L426.1,251.1 L425.1,249.8 L424.1,248.4 L423.1,247.1 L422.1,245.7 L421.1,244.4 L420.1,243.1 L419.1,241.8 L418.1,240.5 L417.1,239.2 L416.1,237.9 L415.1,236.6 L414.1,235.3 L413.1,234.0 L412.1,232.8 L411.1,231.5 L410.1,230.2 L409.1,228.9 L408.1,227.7 L407.1,226.4 L406.1,225.1 L405.1,223.9 L404.1,222.6 L403.1,221.4 L402.1,220.1 L401.1,218.9 L400.1,217.6 L399.1,216.4 L398.1,215.1 L397.1,213.9 L396.1,212.7 L395.1,211.4 L394.1,210.2 L393.1,209.0 L392.1,207.8 L391.1,206.6 L390.1,205.4 L389.1,204.2 L388.1,203.0 L387.1,201.8 L386.1,200.6 L385.1,199.4 L384.1,198.2 L383.1,197.0 L382.1,195.9 L381.1,194.7 L380.1,193.6 L379.1,192.4 L378.1,191.3 L377.1,190.2 L376.1,189.1 L375.1,188.0 L374.1,186.9 L373.1,185.8 L372.1,184.7 L371.1,183.6 L370.1,182.6 L369.1,181.5 L368.1,180.5 L367.1,179.5 L366.1,178.4 L365.1,177.4 L364.1,176.4 L363.1,175.5 L362.1,174.5 L361.1,173.5 L360.1,172.6 L359.1,171.7 L358.1,170.7 L357.1,169.8 L356.1,168.9 L355.1,168.1 L354.1,167.2 L353.1,166.4 L352.1,165.5 L351.1,164.7 L350.1,163.9 L349.1,163.1 L348.1,162.4 L347.1,161.6 L346.1,160.9 L345.1,160.2 L344.1,159.5 L343.1,158.8 L342.1,158.1 L341.1,157.5 L340.1,156.9 L339.1,156.3 L338.1,155.7 L337.1,155.1 L336.1,154.5 L335.1,154.0 L334.1,153.5 L333.1,153.0 L332.1,152.5 L331.1,152.0 L330.1,151.5 L329.1,151.1 L328.1,150.7 L327.1,150.3 L326.1,149.9 L325.1,149.5 L324.1,149.1 L323.1,148.7 L322.1,148.4 L321.1,148.1 L320.1,147.8 L319.1,147.4 L318.1,147.2 L317.1,146.9 L316.1,146.6 L315.1,146.4 L314.1,146.1 L313.1,145.9 L312.1,145.7 L311.1,145.5 L310.1,145.3 L309.1,145.1 L308.1,144.9 L307.1,144.7 L306.1,144.6 L305.1,144.4 L304.1,144.3 L303.1,144.1 L302.1,144.0 L301.1,143.9 L300.1,143.8 L299.1,143.7 L298.1,143.6 L297.1,143.5 L296.1,143.4 L295.1,143.4 L294.1,143.3 L293.1,143.2 L292.1,143.2 L291.1,143.1 L290.1,143.1 L289.1,143.1 L288.1,143.0 L287.1,143.0 L286.1,143.0 L285.1,143.0 L284.1,143.0 L283.1,143.0 L282.1,143.0 L281.1,143.0 L280.1,143.0 L279.1,143.0 L278.1,143.0 L277.1,143.0 L276.1,143.0 L275.1,143.0 L274.1,143.0 L273.1,143.0 L272.1,143.1 L271.1,143.1 L270.1,143.1 L269.1,143.1 L268.1,143.1 L267.1,143.1 L266.1,143.2 L265.1,143.2 L264.1,143.2 L263.1,143.2 L262.1,143.2 L261.1,143.2 L260.1,143.2 L259.1,143.3 L258.1,143.3 L257.1,143.3 L256.1,143.3 L255.1,143.3 L254.1,143.3 L253.1,143.3 L252.1,143.3 L251.1,143.3 L250.1,143.2 L249.1,143.2 L248.1,143.2 L247.1,143.2 L246.1,143.2 L245.1,143.2 L244.1,143.2 L243.1,143.1 L242.1,143.1 L241.1,143.1 L240.1,143.1 L239.1,143.0 L238.1,143.0 L237.1,143.0 L236.1,143.0 L235.1,142.9 L234.1,142.9 L233.1,142.9 L232.1,142.9 L231.1,142.8 L230.1,142.8 L229.1,142.8 L228.1,142.8 L227.1,142.7 L226.1,142.7 L225.1,142.7 L224.1,142.7 L223.1,142.6 L222.1,142.6 L221.1,142.6 L220.1,142.6 L219.1,142.6 L218.1,142.5 L217.1,142.5 L216.1,142.5 L215.1,142.5 L214.1,142.5 L213.1,142.5 L212.1,142.5 L211.1,142.5 L210.1,142.5 L209.1,142.4 L208.1,142.4 L207.1,142.4 L206.1,142.5 L205.1,142.5 L204.1,142.5 L203.1,142.5 L202.1,142.5 L201.1,142.5 L200.1,142.5 L199.1,142.6 L198.1,142.6 L197.1,142.6 L196.1,142.6 L195.1,142.7 L194.1,142.7 L193.1,142.8 L192.1,142.8 L191.1,142.9 L190.1,142.9 L189.1,143.0 L188.1,143.0 L187.1,143.1 L186.1,143.2 L185.1,143.3 L184.1,143.3 L183.1,143.4 L182.1,143.5 L181.1,143.6 L180.1,143.7 L179.1,143.8 L178.1,143.9 L177.1,144.0 L176.1,144.1 L175.1,144.3 L174.1,144.4 L173.1,144.5 L172.1,144.7 L171.1,144.8 L170.1,144.9 L169.1,145.1 L168.1,145.3 L167.1,145.4 L166.1,145.6 L165.1,145.8 L164.1,145.9 L163.1,146.1 L162.1,146.3 L161.1,146.5 L160.1,146.7 L159.1,146.9 L158.1,147.1 L157.1,147.3 L156.1,147.6 L155.1,147.8 L154.1,148.0 L153.1,148.3 L152.1,148.5 L151.1,148.8 L150.1,149.0 L149.1,149.3 L148.1,149.6 L147.1,149.9 L146.1,150.2 L145.1,150.5 L144.1,150.8 L143.1,151.2 L142.1,151.5 L141.1,151.9 L140.1,152.3 L139.1,152.7 L138.1,153.1 L137.1,153.5 L136.1,153.9 L135.1,154.4 L134.1,154.9 L133.1,155.4 L132.1,155.9 L131.1,156.4 L130.1,157.0 L129.1,157.5 L128.1,158.1 L127.1,158.8 L126.1,159.4 L125.1,160.1 L124.1,160.8 L123.1,161.5 L122.1,162.2 L121.1,163.0 L120.1,163.7 L119.1,164.5 L118.1,165.3 L117.1,166.1 L116.1,166.9 L115.1,167.7 L114.1,168.5 L113.1,169.2 L112.1,170.0 L111.1,170.7 L110.1,171.4 L109.1,172.0 L108.1,172.7 L107.1,173.2 L106.1,173.7 L105.1,174.2 L104.1,174.6 L103.1,175.0 L102.1,175.2Z" fill="#00008b" fill-opacity="0.16"/>
<line x1="329.6" x2="329.6" y1="1.4" y2="419.2" stroke="#0b1a8c" stroke-width="1.4"/>
<line x1="357.5" x2="357.5" y1="1.4" y2="419.2" stroke="#000" stroke-width="1.4"/>
<line x1="362.1" x2="362.1" y1="1.4" y2="419.2" stroke="#76180c" stroke-width="1.5"/>
<polyline points="83.2,79.6 362.3,90.2 460,220.9" fill="none" stroke="#821c10" stroke-width="1.7"/>
<polyline points="83.5,99.1 357.5,120.2 498.2,302" fill="none" stroke="#7f7f7f" stroke-width="1.7"/>
<polyline points="102.1,128.8 329.6,142.0 498.2,294.5" fill="none" stroke="#0b1a8c" stroke-width="1.7"/>
<path d="M83.1,115.2 L84.1,114.8 L85.1,114.4 L86.1,114.0 L87.1,113.5 L88.1,113.1 L89.1,112.7 L90.1,112.2 L91.1,111.8 L92.1,111.3 L93.1,110.9 L94.1,110.4 L95.1,110.0 L96.1,109.5 L97.1,109.0 L98.1,108.6 L99.1,108.1 L100.1,107.6 L101.1,107.2 L102.1,106.7 L103.1,106.3 L104.1,105.8 L105.1,105.3 L106.1,104.9 L107.1,104.4 L108.1,103.9 L109.1,103.5 L110.1,103.0 L111.1,102.5 L112.1,102.1 L113.1,101.6 L114.1,101.1 L115.1,100.7 L116.1,100.2 L117.1,99.8 L118.1,99.3 L119.1,98.8 L120.1,98.4 L121.1,98.0 L122.1,97.5 L123.1,97.1 L124.1,96.6 L125.1,96.2 L126.1,95.8 L127.1,95.3 L128.1,94.9 L129.1,94.5 L130.1,94.1 L131.1,93.6 L132.1,93.2 L133.1,92.8 L134.1,92.4 L135.1,92.0 L136.1,91.7 L137.1,91.3 L138.1,90.9 L139.1,90.5 L140.1,90.2 L141.1,89.8 L142.1,89.4 L143.1,89.1 L144.1,88.8 L145.1,88.4 L146.1,88.1 L147.1,87.8 L148.1,87.5 L149.1,87.2 L150.1,86.9 L151.1,86.6 L152.1,86.3 L153.1,86.0 L154.1,85.7 L155.1,85.5 L156.1,85.2 L157.1,85.0 L158.1,84.8 L159.1,84.5 L160.1,84.3 L161.1,84.1 L162.1,83.9 L163.1,83.8 L164.1,83.6 L165.1,83.4 L166.1,83.3 L167.1,83.1 L168.1,83.0 L169.1,82.8 L170.1,82.7 L171.1,82.6 L172.1,82.5 L173.1,82.4 L174.1,82.3 L175.1,82.2 L176.1,82.1 L177.1,82.0 L178.1,81.9 L179.1,81.9 L180.1,81.8 L181.1,81.8 L182.1,81.7 L183.1,81.7 L184.1,81.7 L185.1,81.6 L186.1,81.6 L187.1,81.6 L188.1,81.6 L189.1,81.6 L190.1,81.6 L191.1,81.6 L192.1,81.6 L193.1,81.6 L194.1,81.7 L195.1,81.7 L196.1,81.7 L197.1,81.8 L198.1,81.8 L199.1,81.9 L200.1,81.9 L201.1,82.0 L202.1,82.0 L203.1,82.1 L204.1,82.2 L205.1,82.2 L206.1,82.3 L207.1,82.4 L208.1,82.5 L209.1,82.5 L210.1,82.6 L211.1,82.7 L212.1,82.8 L213.1,82.9 L214.1,83.0 L215.1,83.1 L216.1,83.2 L217.1,83.3 L218.1,83.4 L219.1,83.5 L220.1,83.6 L221.1,83.8 L222.1,83.9 L223.1,84.0 L224.1,84.1 L225.1,84.2 L226.1,84.3 L227.1,84.5 L228.1,84.6 L229.1,84.7 L230.1,84.8 L231.1,85.0 L232.1,85.1 L233.1,85.2 L234.1,85.3 L235.1,85.4 L236.1,85.6 L237.1,85.7 L238.1,85.8 L239.1,85.9 L240.1,86.1 L241.1,86.2 L242.1,86.3 L243.1,86.4 L244.1,86.5 L245.1,86.7 L246.1,86.8 L247.1,86.9 L248.1,87.0 L249.1,87.1 L250.1,87.2 L251.1,87.3 L252.1,87.4 L253.1,87.5 L254.1,87.6 L255.1,87.7 L256.1,87.8 L257.1,87.9 L258.1,88.0 L259.1,88.1 L260.1,88.2 L261.1,88.3 L262.1,88.3 L263.1,88.4 L264.1,88.5 L265.1,88.6 L266.1,88.6 L267.1,88.7 L268.1,88.7 L269.1,88.8 L270.1,88.8 L271.1,88.9 L272.1,88.9 L273.1,88.9 L274.1,89.0 L275.1,89.0 L276.1,89.0 L277.1,89.0 L278.1,89.0 L279.1,89.0 L280.1,89.0 L281.1,89.0 L282.1,89.0 L283.1,89.0 L284.1,89.0 L285.1,88.9 L286.1,88.9 L287.1,88.9 L288.1,88.8 L289.1,88.8 L290.1,88.7 L291.1,88.7 L292.1,88.6 L293.1,88.6 L294.1,88.5 L295.1,88.5 L296.1,88.4 L297.1,88.3 L298.1,88.3 L299.1,88.2 L300.1,88.2 L301.1,88.1 L302.1,88.0 L303.1,88.0 L304.1,87.9 L305.1,87.8 L306.1,87.8 L307.1,87.7 L308.1,87.7 L309.1,87.6 L310.1,87.6 L311.1,87.5 L312.1,87.5 L313.1,87.5 L314.1,87.4 L315.1,87.4 L316.1,87.4 L317.1,87.4 L318.1,87.4 L319.1,87.4 L320.1,87.4 L321.1,87.4 L322.1,87.4 L323.1,87.4 L324.1,87.5 L325.1,87.5 L326.1,87.5 L327.1,87.6 L328.1,87.7 L329.1,87.7 L330.1,87.8 L331.1,87.9 L332.1,88.0 L333.1,88.1 L334.1,88.3 L335.1,88.4 L336.1,88.6 L337.1,88.7 L338.1,88.9 L339.1,89.1 L340.1,89.3 L341.1,89.5 L342.1,89.7 L343.1,90.0 L344.1,90.2 L345.1,90.5 L346.1,90.8 L347.1,91.1 L348.1,91.4 L349.1,91.7 L350.1,92.1 L351.1,92.4 L352.1,92.8 L353.1,93.2 L354.1,93.6 L355.1,94.1 L356.1,94.5 L357.1,95.0 L358.1,95.5 L359.1,96.0 L360.1,96.5 L361.1,97.0 L362.1,97.6 L363.1,98.2 L364.1,98.8 L365.1,99.4 L366.1,100.0 L367.1,100.7 L368.1,101.3 L369.1,102.0 L370.1,102.7 L371.1,103.5 L372.1,104.2 L373.1,105.0 L374.1,105.7 L375.1,106.5 L376.1,107.4 L377.1,108.2 L378.1,109.0 L379.1,109.9 L380.1,110.8 L381.1,111.7 L382.1,112.6 L383.1,113.6 L384.1,114.5 L385.1,115.5 L386.1,116.5 L387.1,117.5 L388.1,118.6 L389.1,119.6 L390.1,120.7 L391.1,121.8 L392.1,122.9 L393.1,124.0 L394.1,125.1 L395.1,126.3 L396.1,127.5 L397.1,128.7 L398.1,129.9 L399.1,131.1 L400.1,132.4 L401.1,133.6 L402.1,134.9 L403.1,136.2 L404.1,137.5 L405.1,138.9 L406.1,140.2 L407.1,141.6 L408.1,143.0 L409.1,144.4 L410.1,145.8 L411.1,147.2 L412.1,148.7 L413.1,150.2 L414.1,151.7 L415.1,153.2 L416.1,154.7 L417.1,156.2 L418.1,157.8 L419.1,159.4 L420.1,161.0 L421.1,162.6 L422.1,164.2 L423.1,165.8 L424.1,167.4 L425.1,169.1 L426.1,170.7 L427.1,172.4 L428.1,174.1 L429.1,175.8 L430.1,177.5 L431.1,179.2 L432.1,180.9 L433.1,182.6 L434.1,184.3 L435.1,186.1 L436.1,187.8 L437.1,189.5 L438.1,191.3 L439.1,193.0 L440.1,194.8 L441.1,196.5 L442.1,198.3 L443.1,200.1 L444.1,201.8 L445.1,203.6 L446.1,205.4 L447.1,207.1 L448.1,208.9 L449.1,210.6 L450.1,212.4 L451.1,214.2 L452.1,215.9 L453.1,217.7 L454.1,219.4 L455.1,221.1 L456.1,222.9 L457.1,224.6 L458.1,226.3 L459.1,228.0 L460.0,229.6" fill="none" stroke="#821c10" stroke-width="1.8" stroke-dasharray="1.7 4.3"/>
<path d="M83.0,136.0 L84.0,135.5 L85.0,135.0 L86.0,134.4 L87.0,133.9 L88.0,133.4 L89.0,132.8 L90.0,132.3 L91.0,131.8 L92.0,131.2 L93.0,130.7 L94.0,130.1 L95.0,129.6 L96.0,129.0 L97.0,128.5 L98.0,127.9 L99.0,127.4 L100.0,126.8 L101.0,126.3 L102.0,125.7 L103.0,125.2 L104.0,124.6 L105.0,124.1 L106.0,123.6 L107.0,123.0 L108.0,122.5 L109.0,121.9 L110.0,121.4 L111.0,120.9 L112.0,120.3 L113.0,119.8 L114.0,119.3 L115.0,118.8 L116.0,118.3 L117.0,117.8 L118.0,117.3 L119.0,116.8 L120.0,116.3 L121.0,115.8 L122.0,115.3 L123.0,114.8 L124.0,114.3 L125.0,113.9 L126.0,113.4 L127.0,113.0 L128.0,112.5 L129.0,112.1 L130.0,111.6 L131.0,111.2 L132.0,110.8 L133.0,110.4 L134.0,110.0 L135.0,109.6 L136.0,109.2 L137.0,108.8 L138.0,108.5 L139.0,108.1 L140.0,107.7 L141.0,107.4 L142.0,107.1 L143.0,106.7 L144.0,106.4 L145.0,106.1 L146.0,105.8 L147.0,105.5 L148.0,105.3 L149.0,105.0 L150.0,104.7 L151.0,104.5 L152.0,104.3 L153.0,104.0 L154.0,103.8 L155.0,103.6 L156.0,103.4 L157.0,103.3 L158.0,103.1 L159.0,103.0 L160.0,102.8 L161.0,102.7 L162.0,102.6 L163.0,102.5 L164.0,102.4 L165.0,102.3 L166.0,102.2 L167.0,102.2 L168.0,102.1 L169.0,102.1 L170.0,102.1 L171.0,102.1 L172.0,102.1 L173.0,102.1 L174.0,102.1 L175.0,102.1 L176.0,102.1 L177.0,102.1 L178.0,102.2 L179.0,102.2 L180.0,102.3 L181.0,102.3 L182.0,102.4 L183.0,102.5 L184.0,102.6 L185.0,102.6 L186.0,102.7 L187.0,102.8 L188.0,102.9 L189.0,103.0 L190.0,103.1 L191.0,103.2 L192.0,103.3 L193.0,103.5 L194.0,103.6 L195.0,103.7 L196.0,103.8 L197.0,103.9 L198.0,104.1 L199.0,104.2 L200.0,104.3 L201.0,104.4 L202.0,104.6 L203.0,104.7 L204.0,104.8 L205.0,104.9 L206.0,105.0 L207.0,105.2 L208.0,105.3 L209.0,105.4 L210.0,105.5 L211.0,105.7 L212.0,105.8 L213.0,105.9 L214.0,106.0 L215.0,106.1 L216.0,106.3 L217.0,106.4 L218.0,106.5 L219.0,106.6 L220.0,106.7 L221.0,106.8 L222.0,107.0 L223.0,107.1 L224.0,107.2 L225.0,107.3 L226.0,107.4 L227.0,107.5 L228.0,107.6 L229.0,107.8 L230.0,107.9 L231.0,108.0 L232.0,108.1 L233.0,108.2 L234.0,108.3 L235.0,108.4 L236.0,108.5 L237.0,108.6 L238.0,108.8 L239.0,108.9 L240.0,109.0 L241.0,109.1 L242.0,109.2 L243.0,109.3 L244.0,109.4 L245.0,109.5 L246.0,109.6 L247.0,109.7 L248.0,109.8 L249.0,109.9 L250.0,110.0 L251.0,110.1 L252.0,110.2 L253.0,110.3 L254.0,110.4 L255.0,110.5 L256.0,110.6 L257.0,110.7 L258.0,110.8 L259.0,110.9 L260.0,111.0 L261.0,111.1 L262.0,111.2 L263.0,111.2 L264.0,111.3 L265.0,111.4 L266.0,111.5 L267.0,111.6 L268.0,111.7 L269.0,111.8 L270.0,111.9 L271.0,111.9 L272.0,112.0 L273.0,112.1 L274.0,112.2 L275.0,112.3 L276.0,112.3 L277.0,112.4 L278.0,112.5 L279.0,112.6 L280.0,112.6 L281.0,112.7 L282.0,112.8 L283.0,112.9 L284.0,112.9 L285.0,113.0 L286.0,113.1 L287.0,113.1 L288.0,113.2 L289.0,113.3 L290.0,113.3 L291.0,113.4 L292.0,113.5 L293.0,113.5 L294.0,113.6 L295.0,113.7 L296.0,113.7 L297.0,113.8 L298.0,113.8 L299.0,113.9 L300.0,113.9 L301.0,114.0 L302.0,114.0 L303.0,114.1 L304.0,114.1 L305.0,114.2 L306.0,114.2 L307.0,114.3 L308.0,114.3 L309.0,114.4 L310.0,114.4 L311.0,114.5 L312.0,114.5 L313.0,114.5 L314.0,114.6 L315.0,114.6 L316.0,114.7 L317.0,114.7 L318.0,114.7 L319.0,114.8 L320.0,114.8 L321.0,114.8 L322.0,114.9 L323.0,114.9 L324.0,115.0 L325.0,115.1 L326.0,115.1 L327.0,115.2 L328.0,115.3 L329.0,115.4 L330.0,115.5 L331.0,115.6 L332.0,115.8 L333.0,115.9 L334.0,116.1 L335.0,116.2 L336.0,116.4 L337.0,116.6 L338.0,116.8 L339.0,117.1 L340.0,117.3 L341.0,117.6 L342.0,117.9 L343.0,118.2 L344.0,118.6 L345.0,118.9 L346.0,119.3 L347.0,119.7 L348.0,120.2 L349.0,120.6 L350.0,121.1 L351.0,121.6 L352.0,122.2 L353.0,122.8 L354.0,123.4 L355.0,124.0 L356.0,124.7 L357.0,125.4 L358.0,126.1 L359.0,126.8 L360.0,127.6 L361.0,128.4 L362.0,129.3 L363.0,130.1 L364.0,131.0 L365.0,131.9 L366.0,132.9 L367.0,133.9 L368.0,134.8 L369.0,135.9 L370.0,136.9 L371.0,138.0 L372.0,139.1 L373.0,140.2 L374.0,141.3 L375.0,142.5 L376.0,143.7 L377.0,144.9 L378.0,146.1 L379.0,147.4 L380.0,148.6 L381.0,149.9 L382.0,151.2 L383.0,152.5 L384.0,153.9 L385.0,155.2 L386.0,156.6 L387.0,158.0 L388.0,159.4 L389.0,160.9 L390.0,162.3 L391.0,163.8 L392.0,165.2 L393.0,166.7 L394.0,168.2 L395.0,169.7 L396.0,171.3 L397.0,172.8 L398.0,174.3 L399.0,175.9 L400.0,177.4 L401.0,178.9 L402.0,180.5 L403.0,182.0 L404.0,183.6 L405.0,185.1 L406.0,186.7 L407.0,188.2 L408.0,189.8 L409.0,191.3 L410.0,192.9 L411.0,194.4 L412.0,195.9 L413.0,197.4 L414.0,199.0 L415.0,200.5 L416.0,202.0 L417.0,203.4 L418.0,204.9 L419.0,206.4 L420.0,207.9 L421.0,209.4 L422.0,210.8 L423.0,212.3 L424.0,213.7 L425.0,215.2 L426.0,216.6 L427.0,218.1 L428.0,219.5 L429.0,220.9 L430.0,222.4 L431.0,223.8 L432.0,225.2 L433.0,226.6 L434.0,228.0 L435.0,229.4 L436.0,230.8 L437.0,232.2 L438.0,233.6 L439.0,235.0 L440.0,236.4 L441.0,237.8 L442.0,239.2 L443.0,240.5 L444.0,241.9 L445.0,243.3 L446.0,244.6 L447.0,246.0 L448.0,247.3 L449.0,248.7 L450.0,250.0 L451.0,251.4 L452.0,252.7 L453.0,254.1 L454.0,255.4 L455.0,256.8 L456.0,258.1 L457.0,259.4 L458.0,260.8 L459.0,262.1 L460.0,263.4 L461.0,264.8 L462.0,266.1 L463.0,267.4 L464.0,268.7 L465.0,270.1 L466.0,271.4 L467.0,272.7 L468.0,274.0 L469.0,275.3 L470.0,276.6 L471.0,277.9 L472.0,279.3 L473.0,280.6 L474.0,281.9 L475.0,283.2 L476.0,284.5 L477.0,285.8 L478.0,287.1 L479.0,288.4 L480.0,289.7 L481.0,291.1 L482.0,292.4 L483.0,293.7 L484.0,295.0 L485.0,296.3 L486.0,297.6 L487.0,298.9 L488.0,300.2 L489.0,301.5 L490.0,302.9 L491.0,304.2 L492.0,305.5 L493.0,306.8 L494.0,308.1 L495.0,309.4 L496.0,310.8 L497.0,312.1 L497.8,313.2" fill="none" stroke="#000" stroke-width="1.8" stroke-dasharray="1.7 4.3"/>
<path d="M102.4,116.2 L103.4,116.4 L104.4,116.5 L105.4,116.7 L106.4,116.8 L107.4,116.9 L108.4,117.1 L109.4,117.2 L110.4,117.4 L111.4,117.5 L112.4,117.6 L113.4,117.8 L114.4,117.9 L115.4,118.1 L116.4,118.2 L117.4,118.4 L118.4,118.5 L119.4,118.7 L120.4,118.9 L121.4,119.0 L122.4,119.2 L123.4,119.3 L124.4,119.5 L125.4,119.6 L126.4,119.8 L127.4,120.0 L128.4,120.1 L129.4,120.3 L130.4,120.5 L131.4,120.6 L132.4,120.8 L133.4,121.0 L134.4,121.1 L135.4,121.3 L136.4,121.5 L137.4,121.6 L138.4,121.8 L139.4,122.0 L140.4,122.1 L141.4,122.3 L142.4,122.5 L143.4,122.7 L144.4,122.8 L145.4,123.0 L146.4,123.2 L147.4,123.4 L148.4,123.5 L149.4,123.7 L150.4,123.9 L151.4,124.1 L152.4,124.3 L153.4,124.4 L154.4,124.6 L155.4,124.8 L156.4,125.0 L157.4,125.1 L158.4,125.3 L159.4,125.5 L160.4,125.7 L161.4,125.9 L162.4,126.1 L163.4,126.2 L164.4,126.4 L165.4,126.6 L166.4,126.8 L167.4,127.0 L168.4,127.1 L169.4,127.3 L170.4,127.5 L171.4,127.7 L172.4,127.9 L173.4,128.1 L174.4,128.2 L175.4,128.4 L176.4,128.6 L177.4,128.8 L178.4,129.0 L179.4,129.1 L180.4,129.3 L181.4,129.5 L182.4,129.7 L183.4,129.9 L184.4,130.0 L185.4,130.2 L186.4,130.4 L187.4,130.6 L188.4,130.8 L189.4,130.9 L190.4,131.1 L191.4,131.3 L192.4,131.5 L193.4,131.7 L194.4,131.8 L195.4,132.0 L196.4,132.2 L197.4,132.4 L198.4,132.5 L199.4,132.7 L200.4,132.9 L201.4,133.1 L202.4,133.2 L203.4,133.4 L204.4,133.6 L205.4,133.7 L206.4,133.9 L207.4,134.1 L208.4,134.2 L209.4,134.4 L210.4,134.6 L211.4,134.7 L212.4,134.9 L213.4,135.0 L214.4,135.2 L215.4,135.3 L216.4,135.5 L217.4,135.6 L218.4,135.8 L219.4,135.9 L220.4,136.1 L221.4,136.2 L222.4,136.4 L223.4,136.5 L224.4,136.6 L225.4,136.8 L226.4,136.9 L227.4,137.0 L228.4,137.2 L229.4,137.3 L230.4,137.4 L231.4,137.5 L232.4,137.6 L233.4,137.8 L234.4,137.9 L235.4,138.0 L236.4,138.1 L237.4,138.2 L238.4,138.3 L239.4,138.4 L240.4,138.5 L241.4,138.6 L242.4,138.6 L243.4,138.7 L244.4,138.8 L245.4,138.9 L246.4,139.0 L247.4,139.0 L248.4,139.1 L249.4,139.2 L250.4,139.2 L251.4,139.3 L252.4,139.3 L253.4,139.4 L254.4,139.4 L255.4,139.5 L256.4,139.5 L257.4,139.5 L258.4,139.6 L259.4,139.6 L260.4,139.6 L261.4,139.6 L262.4,139.6 L263.4,139.6 L264.4,139.7 L265.4,139.7 L266.4,139.7 L267.4,139.7 L268.4,139.7 L269.4,139.7 L270.4,139.7 L271.4,139.7 L272.4,139.7 L273.4,139.7 L274.4,139.7 L275.4,139.7 L276.4,139.7 L277.4,139.7 L278.4,139.7 L279.4,139.7 L280.4,139.7 L281.4,139.7 L282.4,139.7 L283.4,139.7 L284.4,139.7 L285.4,139.7 L286.4,139.7 L287.4,139.7 L288.4,139.8 L289.4,139.8 L290.4,139.8 L291.4,139.8 L292.4,139.9 L293.4,139.9 L294.4,140.0 L295.4,140.0 L296.4,140.1 L297.4,140.1 L298.4,140.2 L299.4,140.3 L300.4,140.4 L301.4,140.5 L302.4,140.6 L303.4,140.7 L304.4,140.8 L305.4,140.9 L306.4,141.0 L307.4,141.1 L308.4,141.3 L309.4,141.4 L310.4,141.6 L311.4,141.7 L312.4,141.9 L313.4,142.1 L314.4,142.3 L315.4,142.5 L316.4,142.7 L317.4,143.0 L318.4,143.2 L319.4,143.4 L320.4,143.7 L321.4,144.0 L322.4,144.2 L323.4,144.5 L324.4,144.8 L325.4,145.2 L326.4,145.5 L327.4,145.8 L328.4,146.2 L329.4,146.6 L330.4,147.0 L331.4,147.3 L332.4,147.8 L333.4,148.2 L334.4,148.6 L335.4,149.1 L336.4,149.6 L337.4,150.0 L338.4,150.5 L339.4,151.1 L340.4,151.6 L341.4,152.1 L342.4,152.7 L343.4,153.3 L344.4,153.9 L345.4,154.5 L346.4,155.1 L347.4,155.8 L348.4,156.4 L349.4,157.1 L350.4,157.8 L351.4,158.5 L352.4,159.2 L353.4,160.0 L354.4,160.7 L355.4,161.5 L356.4,162.2 L357.4,163.0 L358.4,163.8 L359.4,164.6 L360.4,165.4 L361.4,166.3 L362.4,167.1 L363.4,168.0 L364.4,168.8 L365.4,169.7 L366.4,170.6 L367.4,171.5 L368.4,172.4 L369.4,173.3 L370.4,174.2 L371.4,175.1 L372.4,176.1 L373.4,177.0 L374.4,178.0 L375.4,178.9 L376.4,179.9 L377.4,180.9 L378.4,181.8 L379.4,182.8 L380.4,183.8 L381.4,184.8 L382.4,185.8 L383.4,186.8 L384.4,187.8 L385.4,188.8 L386.4,189.9 L387.4,190.9 L388.4,191.9 L389.4,192.9 L390.4,194.0 L391.4,195.0 L392.4,196.0 L393.4,197.1 L394.4,198.1 L395.4,199.2 L396.4,200.2 L397.4,201.3 L398.4,202.3 L399.4,203.4 L400.4,204.4 L401.4,205.5 L402.4,206.5 L403.4,207.6 L404.4,208.6 L405.4,209.7 L406.4,210.7 L407.4,211.8 L408.4,212.8 L409.4,213.9 L410.4,215.0 L411.4,216.0 L412.4,217.1 L413.4,218.1 L414.4,219.2 L415.4,220.2 L416.4,221.3 L417.4,222.3 L418.4,223.4 L419.4,224.4 L420.4,225.5 L421.4,226.5 L422.4,227.5 L423.4,228.6 L424.4,229.6 L425.4,230.6 L426.4,231.7 L427.4,232.7 L428.4,233.7 L429.4,234.8 L430.4,235.8 L431.4,236.8 L432.4,237.8 L433.4,238.8 L434.4,239.8 L435.4,240.8 L436.4,241.8 L437.4,242.8 L438.4,243.8 L439.4,244.8 L440.4,245.8 L441.4,246.7 L442.4,247.7 L443.4,248.7 L444.4,249.6 L445.4,250.6 L446.4,251.5 L447.4,252.5 L448.4,253.4 L449.4,254.4 L450.4,255.3 L451.4,256.2 L452.4,257.1 L453.4,258.1 L454.4,259.0 L455.4,259.9 L456.4,260.8 L457.4,261.7 L458.4,262.6 L459.4,263.5 L460.4,264.4 L461.4,265.2 L462.4,266.1 L463.4,267.0 L464.4,267.9 L465.4,268.8 L466.4,269.7 L467.4,270.5 L468.4,271.4 L469.4,272.3 L470.4,273.2 L471.4,274.0 L472.4,274.9 L473.4,275.8 L474.4,276.6 L475.4,277.5 L476.4,278.4 L477.4,279.2 L478.4,280.1 L479.4,281.0 L480.4,281.9 L481.4,282.7 L482.4,283.6 L483.4,284.5 L484.4,285.4 L485.4,286.3 L486.4,287.1 L487.4,288.0 L488.4,288.9 L489.4,289.8 L490.4,290.7 L491.4,291.6 L492.4,292.5 L493.4,293.4 L494.4,294.3 L495.4,295.2 L495.6,295.4" fill="none" stroke="#0b1a8c" stroke-width="1.8" stroke-dasharray="1.7 4.3"/>
<line x1="416.8" y1="34.0" x2="366.8" y2="84.9" stroke="#000" stroke-width="1.5" stroke-dasharray="5 3.4"/><polygon points="361.8,90.0 364.7,79.9 371.8,86.9" fill="#000"/>
<line x1="416.8" y1="77.1" x2="364.1" y2="115.9" stroke="#000" stroke-width="1.5" stroke-dasharray="5 3.4"/><polygon points="358.3,120.2 362.7,110.7 368.7,118.8" fill="#000"/>
<line x1="416.8" y1="119.0" x2="335.9" y2="140.7" stroke="#000" stroke-width="1.5" stroke-dasharray="5 3.4"/><polygon points="328.9,142.6 336.5,135.4 339.1,145.0" fill="#000"/>
<rect x="416.5" y="19.4" width="100.1" height="30.8" fill="#fff"/><text x="466.6" y="30.7" font-family="Liberation Sans, Arial, sans-serif" font-size="12.6" fill="#85192b" stroke="#85192b" stroke-width="0.25" text-anchor="middle" textLength="50.3" lengthAdjust="spacingAndGlyphs">Women:</text><text x="466.7" y="44.0" font-family="Liberation Sans, Arial, sans-serif" font-size="12.6" fill="#85192b" stroke="#85192b" stroke-width="0.25" text-anchor="middle" textLength="90" lengthAdjust="spacingAndGlyphs">40.1 mmol/mol</text>
<rect x="416.5" y="62.3" width="100.1" height="30.8" fill="#fff"/><text x="466.6" y="73.6" font-family="Liberation Sans, Arial, sans-serif" font-size="12.6" fill="#000" stroke="#000" stroke-width="0.25" text-anchor="middle" textLength="68.8" lengthAdjust="spacingAndGlyphs">Sex-pooled:</text><text x="466.7" y="86.9" font-family="Liberation Sans, Arial, sans-serif" font-size="12.6" fill="#000" stroke="#000" stroke-width="0.25" text-anchor="middle" textLength="90" lengthAdjust="spacingAndGlyphs">39.6 mmol/mol</text>
<rect x="416.5" y="104.4" width="100.1" height="30.9" fill="#fff"/><text x="466.4" y="115.7" font-family="Liberation Sans, Arial, sans-serif" font-size="12.6" fill="#32459a" stroke="#32459a" stroke-width="0.25" text-anchor="middle" textLength="29" lengthAdjust="spacingAndGlyphs">Men:</text><text x="466.7" y="129.0" font-family="Liberation Sans, Arial, sans-serif" font-size="12.6" fill="#32459a" stroke="#32459a" stroke-width="0.25" text-anchor="middle" textLength="90" lengthAdjust="spacingAndGlyphs">37.3 mmol/mol</text>
<rect x="62.8" y="1.2" width="456.4" height="417.95" fill="none" stroke="#6a6a6a" stroke-width="1.5"/>
<line x1="58.4" x2="62.4" y1="40.5" y2="40.5" stroke="#333" stroke-width="1.07"/>
<text x="55.3" y="45.2" font-family="Liberation Sans, Arial, sans-serif" font-size="12" fill="#4d4d4d" text-anchor="end">2.50</text>
<line x1="58.4" x2="62.4" y1="154.7" y2="154.7" stroke="#333" stroke-width="1.07"/>
<text x="55.3" y="159.4" font-family="Liberation Sans, Arial, sans-serif" font-size="12" fill="#4d4d4d" text-anchor="end">2.45</text>
<line x1="58.4" x2="62.4" y1="268.8" y2="268.8" stroke="#333" stroke-width="1.07"/>
<text x="55.3" y="273.5" font-family="Liberation Sans, Arial, sans-serif" font-size="12" fill="#4d4d4d" text-anchor="end">2.40</text>
<line x1="58.4" x2="62.4" y1="383.0" y2="383.0" stroke="#333" stroke-width="1.07"/>
<text x="55.3" y="387.7" font-family="Liberation Sans, Arial, sans-serif" font-size="12" fill="#4d4d4d" text-anchor="end">2.35</text>
<line x1="165.8" x2="165.8" y1="419.2" y2="423.2" stroke="#333" stroke-width="1.07"/>
<text x="165.8" y="435.8" font-family="Liberation Sans, Arial, sans-serif" font-size="12" fill="#4d4d4d" text-anchor="middle">-2.5</text>
<line x1="290.8" x2="290.8" y1="419.2" y2="423.2" stroke="#333" stroke-width="1.07"/>
<text x="290.8" y="435.8" font-family="Liberation Sans, Arial, sans-serif" font-size="12" fill="#4d4d4d" text-anchor="middle">0.0</text>
<line x1="415.8" x2="415.8" y1="419.2" y2="423.2" stroke="#333" stroke-width="1.07"/>
<text x="415.8" y="435.8" font-family="Liberation Sans, Arial, sans-serif" font-size="12" fill="#4d4d4d" text-anchor="middle">2.5</text>
<text transform="translate(11.9,214) rotate(-90)" font-family="Liberation Sans, Arial, sans-serif" font-size="15.5" fill="#000" stroke="#000" stroke-width="0.25" text-anchor="middle" textLength="234" lengthAdjust="spacingAndGlyphs">Adjusted mean cortical thickness</text>
<text transform="translate(32.9,214) rotate(-90)" font-family="Liberation Sans, Arial, sans-serif" font-size="16" fill="#000" stroke="#000" stroke-width="0.25" text-anchor="middle">(mm)</text>
<text x="128.2" y="457.2" font-family="Liberation Sans, Arial, sans-serif" font-size="15.5" fill="#000" stroke="#000" stroke-width="0.25" textLength="31.2" lengthAdjust="spacingAndGlyphs">HbA</text>
<text x="159.8" y="462.6" font-family="Liberation Sans, Arial, sans-serif" font-size="9" fill="#000" textLength="9.6" lengthAdjust="spacingAndGlyphs">1c</text>
<text x="171.3" y="457.2" font-family="Liberation Sans, Arial, sans-serif" font-size="15.5" fill="#000" stroke="#000" stroke-width="0.25" textLength="277.2" lengthAdjust="spacingAndGlyphs">(inverse normal transformed, SD units)</text>
</svg></body></html>
